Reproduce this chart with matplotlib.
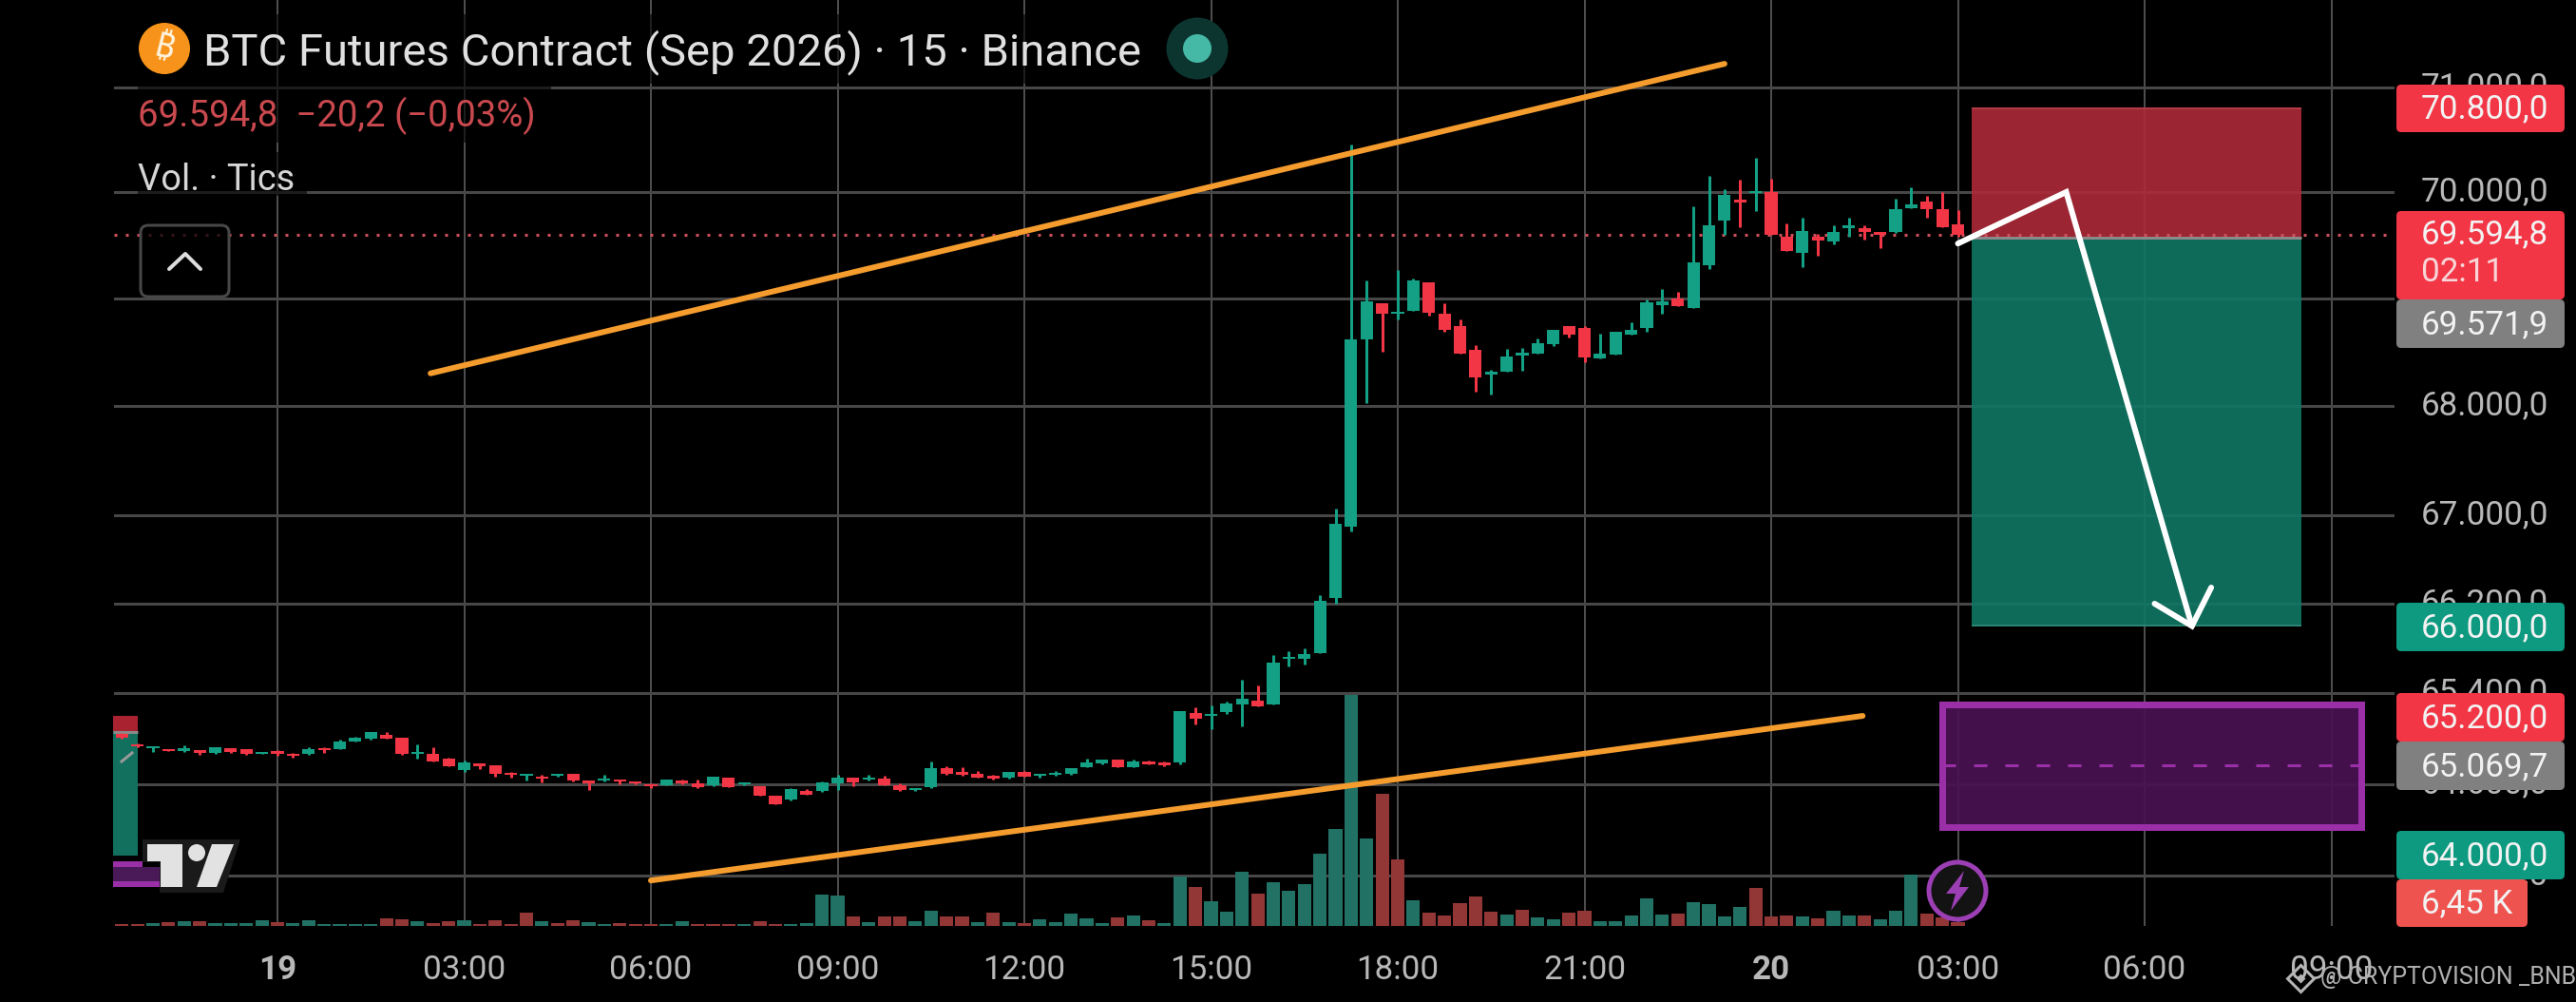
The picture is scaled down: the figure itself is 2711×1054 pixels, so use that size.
import matplotlib
matplotlib.use("Agg")
import matplotlib.pyplot as plt
import numpy as np
from matplotlib.patches import Rectangle, FancyBboxPatch, Circle, Polygon
from matplotlib.ticker import NullLocator
from matplotlib.transforms import ScaledTranslation

plt.rcParams['font.family'] = ['Roboto', 'DejaVu Sans']

# 15-minute candles, hours counted from the start of day 19
first_hour = -2.5
opens = [65045,64947,64914,64906,64886,64897,64870,64914,64906,64864,
         64889,64867,64861,64917,64909,64978,64995,65034,65006,64861,
         64864,64825,64725,64778,64767,64697,64675,64667,64675,64689,
         64631,64628,64639,64622,64600,64592,64633,64608,64586,64658,
         64594,64581,64497,64461,64539,64536,64608,64656,64636,64650,
         64586,64544,64569,64739,64706,64686,64675,64653,64708,64669,
         64678,64686,64752,64783,64811,64752,64802,64786,64786,65228,
         65200,65233,65303,65331,65303,65703,65703,65754,66248,66895,
         68617,68956,68856,68882,69152,68853,68738,68516,68289,68316,
         68463,68484,68572,68743,68720,68440,68475,68661,68723,68935,
         68994,68909,69307,69730,69927,69990,70000,69581,69427,69578,
         69533,69662,69662,69626,69620,69846,69908,69842,69697]
highs = [65050,64953,64931,64906,64942,64900,64922,64917,64909,64881,
         64895,64875,64922,64920,64992,65017,65059,65059,65006,64950,
         64922,64831,64803,64781,64767,64706,64689,64683,64692,64689,
         64631,64683,64639,64625,64603,64642,64642,64642,64667,64658,
         64614,64581,64497,64564,64558,64622,64678,64656,64681,64675,
         64606,64567,64800,64758,64750,64711,64683,64708,64711,64689,
         64717,64742,64827,64819,64816,64819,64808,64794,65244,65278,
         65292,65328,65520,65469,65743,65774,65802,66277,67055,70455,
         69164,68956,69262,69188,69152,68950,68797,68558,68336,68531,
         68537,68620,68708,68743,68743,68664,68690,68779,68988,69089,
         69063,69867,70153,70027,70118,70330,70127,69706,69760,69605,
         69688,69754,69688,69626,69939,70045,69967,70000,69831]
lows = [65000,64922,64878,64886,64884,64853,64867,64875,64853,64861,
        64850,64834,64859,64875,64909,64975,64992,65000,64859,64825,
        64797,64756,64706,64733,64667,64658,64628,64617,64661,64625,
        64550,64625,64594,64600,64561,64589,64597,64567,64583,64572,
        64592,64500,64425,64458,64508,64533,64544,64583,64633,64589,
        64542,64536,64567,64683,64675,64656,64642,64650,64661,64658,
        64675,64683,64750,64772,64745,64750,64775,64758,64777,65128,
        65086,65219,65109,65283,65303,65635,65658,65754,66203,66850,
        68024,68502,68802,68879,68841,68684,68484,68130,68103,68316,
        68324,68484,68552,68634,68404,68440,68472,68661,68684,68856,
        68926,68909,69271,69599,69670,69820,69594,69444,69293,69397,
        69507,69581,69551,69471,69617,69843,69754,69665,69581]
closes = [65006,64928,64931,64889,64914,64875,64922,64878,64864,64881,
          64867,64845,64909,64895,64975,65006,65056,65003,64861,64881,
          64800,64758,64792,64753,64686,64678,64689,64644,64689,64633,
          64608,64650,64622,64603,64578,64642,64606,64569,64664,64575,
          64614,64500,64425,64556,64508,64614,64656,64617,64653,64592,
          64544,64567,64739,64686,64681,64658,64644,64706,64664,64689,
          64700,64739,64786,64813,64747,64802,64777,64761,65242,65172,
          65219,65308,65351,65286,65672,65723,65751,66226,66919,68614,
          68974,68856,68876,69170,68861,68705,68484,68263,68313,68460,
          68490,68584,68708,68661,68445,68487,68690,68702,68959,68974,
          68926,69340,69688,69976,69897,70009,69594,69444,69635,69539,
          69626,69682,69623,69599,69840,69884,69837,69665,69594.8]
volumes = [4.2,4.2,6.0,6.6,9.0,8.4,4.8,4.8,4.8,10.2,
           6.6,4.8,10.2,4.2,4.2,4.2,4.2,13.8,12.6,8.4,
           4.8,8.4,10.2,4.2,10.2,4.2,25.2,8.4,6.0,10.2,
           7.8,4.2,6.0,4.2,4.2,4.2,9.0,4.2,4.2,4.2,
           4.2,9.0,4.2,4.2,6.0,59.4,57.6,18.0,6.6,18.0,
           18.0,8.4,28.8,18.0,18.0,6.6,25.2,6.6,4.8,12.6,
           6.6,22.8,13.8,6.0,15.6,19.2,10.2,4.8,
           93.0,73.8,46.2,27.0,102.0,61.2,82.8,66.6,78.6,136.8,183.6,437.4,165.6,
           250.2,126.0,48.0,25.2,19.8,43.2,55.8,27.0,21.6,30.6,16.2,12.6,25.2,28.8,
           9.0,9.0,19.8,52.2,21.6,23.4,45.0,41.4,18.0,36.0,72.0,18.0,19.8,18.0,14.4,
           28.8,19.8,19.8,12.6,28.8,97.2,23.4,16.2,6.45]
volume_sides = ("rrgrgrgggg" "rggggggrrg" "rrgrrrrgrr" "ggrrrggrrr" "grrggggrgr" "rggrrgrgrg"
                "ggggrg" "rg"
                "grgggrgggggggrrgrrrrrgrggrrgggggrggggrrrgrggrgggrrr")

price_ticks = [71000, 70000, 69000, 68000, 67000, 66200, 65400, 64600, 63800]
price_labels = ['71.000,0', '70.000,0', '69.000,0', '68.000,0', '67.000,0',
                '66.200,0', '65.400,0', '64.600,0', '63.800,0']
time_ticks = [0, 3, 6, 9, 12, 15, 18, 21, 24, 27, 30, 33]
time_labels = ['19', '03:00', '06:00', '09:00', '12:00', '15:00', '18:00', '21:00',
               '20', '03:00', '06:00', '09:00']

upper_trend_hours, upper_trend_prices = [2.46, 23.25], [68300, 71228]
lower_trend_hours, lower_trend_prices = [6.0, 25.47], [63761, 65200]
sketch_hours, sketch_prices = [27.0, 28.74, 30.76], [69513, 70000, 66000]
head_hours, head_prices = [30.16, 30.76, 31.07], [66200, 66000, 66345]
short_hours = [27.22, 32.52]
short_stop, short_entry, short_target = 70800, 69571.9, 66000
zone_hours = [26.75, 33.48]
zone_top, zone_mid, zone_bottom = 65300, 64767, 64226
last_price = 69594.8

BG = '#000000'
UP, DOWN = '#14a084', '#f23645'
VOL_UP, VOL_DOWN = '#217165', '#933636'
PX = 0.72  # points per pixel at dpi 100

W, H = 2711, 1054
fig = plt.figure(figsize=(W / 100, H / 100), dpi=100, facecolor=BG)
rect = [120 / W, (H - 974) / H, 2400 / W, 974 / H]
xlim = (-2.626, 34.015)
ylim = (63369, 71847)

# grid layer with the axes' own ticks
ax = fig.add_axes(rect, facecolor=BG, zorder=1)
ax.set_yscale('log')
ax.set_xlim(xlim)
ax.set_ylim(ylim)
ax.yaxis.tick_right()
ax.set_yticks(price_ticks)
ax.set_yticklabels(price_labels)
ax.yaxis.set_minor_locator(NullLocator())
ax.set_xticks(time_ticks)
ax.set_xticklabels(time_labels)
ax.tick_params(axis='both', length=0, colors='#b8b8b8', labelsize=35 * PX)
ax.tick_params(axis='y', pad=28 * PX)
ax.tick_params(axis='x', pad=30 * PX)
ax.grid(axis='x', color='#4d4d4d', lw=2 * PX)
ax.grid(axis='y', color='#474747', lw=3 * PX)
for s in ax.spines.values():
    s.set_visible(False)
for lab in ax.get_yticklabels():
    lab.set_transform(lab.get_transform() + ScaledTranslation(0, 4 / 100, fig.dpi_scale_trans))
for lab, txt in zip(ax.get_xticklabels(), time_labels):
    if txt in ('19', '20'):
        lab.set_fontweight('bold')

hours = first_hour + 0.25 * np.arange(len(closes))

# volume layer
vax = fig.add_axes(rect, zorder=2)
vax.patch.set_alpha(0)
vax.axis('off')
vax.set_xlim(xlim)
vax.set_ylim(0, 1753)
vax.bar(hours, volumes, width=0.215,
        color=[VOL_UP if s == 'g' else VOL_DOWN for s in volume_sides], linewidth=0)

# compressed copies of the drawings at the left edge, under the candles
low = fig.add_axes([0, 0, 1, 1], zorder=2.5)
low.patch.set_alpha(0)
low.axis('off')
low.set_xlim(0, W)
low.set_ylim(H, 0)
low.add_patch(Rectangle((119, 753), 26, 16, fc='#a8222f', lw=0))
low.add_patch(Rectangle((119, 769), 26, 131, fc='#12705f', lw=0))
low.plot([119, 145], [770, 770], color='#8a8a8a', lw=3 * PX, solid_capstyle='butt')
low.plot([128, 139], [801, 792], color='#9a9a9a', lw=3 * PX)
low.add_patch(Rectangle((119, 906), 31, 6, fc='#9a2fa8', lw=0))
low.add_patch(Rectangle((119, 912), 50, 15, fc='#4a1a58', lw=0))
low.add_patch(Rectangle((119, 927), 50, 6, fc='#9a2fa8', lw=0))

# price layer
pax = fig.add_axes(rect, zorder=3)
pax.patch.set_alpha(0)
pax.set_yscale('log')
pax.axis('off')

pax.add_patch(Rectangle((short_hours[0], short_entry), short_hours[1] - short_hours[0],
                        short_stop - short_entry, fc=(173 / 255, 42 / 255, 56 / 255, 0.9), lw=0, zorder=2))
pax.add_patch(Rectangle((short_hours[0], short_target), short_hours[1] - short_hours[0],
                        short_entry - short_target, fc=(16 / 255, 118 / 255, 100 / 255, 0.9), lw=0, zorder=2))
pax.plot(short_hours, [short_entry] * 2, color='#8a8a8a', lw=3 * PX, zorder=2.1, solid_capstyle='butt')
pax.plot(short_hours, [short_stop] * 2, color='#b23a45', lw=2 * PX, zorder=2.1, solid_capstyle='butt')
pax.plot(short_hours, [short_target] * 2, color='#2b8574', lw=2 * PX, zorder=2.1, solid_capstyle='butt')

pax.add_patch(Rectangle((zone_hours[0], zone_bottom), zone_hours[1] - zone_hours[0],
                        zone_top - zone_bottom, fc=(74 / 255, 18 / 255, 82 / 255, 0.93),
                        ec='#9a2fa8', lw=7 * PX, zorder=2, joinstyle='miter'))
pax.plot(zone_hours, [zone_mid] * 2, color='#9a2fa8', lw=3 * PX, ls=(0, (4.7, 6.3)), zorder=2.2)

pax.plot([xlim[0], 33.87], [last_price] * 2, color='#d0505c', lw=3 * PX, ls=(0, (1, 3)), zorder=2.5)

pax.vlines(hours, lows, highs, colors=[UP if c >= o else DOWN for o, c in zip(opens, closes)],
           lw=3 * PX, zorder=3)
pax.bar(hours, np.array(closes) - np.array(opens), bottom=opens, width=0.2,
        color=[UP if c >= o else DOWN for o, c in zip(opens, closes)], linewidth=0, zorder=3.1)

pax.plot(upper_trend_hours, upper_trend_prices, color='#f59c2e', lw=6 * PX, solid_capstyle='round', zorder=4)
pax.plot(lower_trend_hours, lower_trend_prices, color='#f59c2e', lw=6 * PX, solid_capstyle='round', zorder=4)
pax.plot(sketch_hours, sketch_prices, color='white', lw=6 * PX, solid_capstyle='round',
         solid_joinstyle='miter', zorder=5)
pax.plot(head_hours, head_prices, color='white', lw=6 * PX, solid_capstyle='round',
         solid_joinstyle='miter', zorder=5)
pax.set_xlim(xlim)
pax.set_ylim(ylim)

# interface furniture, placed in screen pixels
ui = fig.add_axes([0, 0, 1, 1], zorder=10)
ui.patch.set_alpha(0)
ui.axis('off')
ui.set_xlim(0, W)
ui.set_ylim(H, 0)

# legend backing that dims the grid behind it
for x0, y0, x1, y1 in [(145, 15, 1215, 88), (145, 88, 580, 150), (145, 160, 323, 206)]:
    ui.add_patch(Rectangle((x0, y0), x1 - x0, y1 - y0, fc=(0, 0, 0, 0.6), lw=0, zorder=0.2))

ui.add_patch(Circle((173, 51), 27, fc='#f7931a', lw=0))
ui.text(173, 51, '₿', color='#fff4e0', fontsize=36 * PX, ha='center', va='center', rotation=-14,
        fontweight='bold', family=['Noto Sans', 'Inter', 'Open Sans', 'Lato', 'Liberation Sans', 'DejaVu Sans'])
ui.text(214, 68, 'BTC Futures Contract (Sep 2026) · 15 · Binance', color='#e0e0e0',
        fontsize=47.3 * PX, va='baseline', ha='left')
ui.add_patch(Circle((1260, 51), 32.5, fc='#0d3530', lw=0))
ui.add_patch(Circle((1260, 51), 15, fc='#45b8a6', lw=0))
ui.text(145, 133, '69.594,8  −20,2 (−0,03%)', color='#c9494f', fontsize=38.4 * PX, va='baseline', ha='left')
ui.text(145, 200, 'Vol. · Tics', color='#d6d6d6', fontsize=38 * PX, va='baseline', ha='left')

ui.add_patch(FancyBboxPatch((156, 245), 77, 59, boxstyle='round,pad=8,rounding_size=8',
                            fc=(0, 0, 0, 0.75), ec='#484848', lw=3 * PX))
ui.plot([178, 195, 211], [283, 267, 283], color='#dddddd', lw=4 * PX, solid_capstyle='round')

# TradingView mark
ui.add_patch(Polygon([(150, 883), (253, 883), (235, 939), (168, 939), (168, 907), (150, 907)],
                     fc='#1a1a1a', lw=0, zorder=1))
ui.add_patch(Polygon([(155, 888), (192, 888), (192, 933), (169, 933), (169, 906), (155, 906)],
                     fc='#e2e2e2', lw=0, zorder=1.1))
ui.add_patch(Circle((207, 897), 9, fc='#e2e2e2', lw=0, zorder=1.1))
ui.add_patch(Polygon([(223, 888), (246, 888), (228, 933), (207, 933)], fc='#e2e2e2', lw=0, zorder=1.1))

# lightning badge
ui.add_patch(Circle((2060, 937), 30, fc='#131313', ec='#9c3fb5', lw=5 * PX, zorder=3))
ui.add_patch(Polygon([(2067, 916), (2048, 940), (2058, 940), (2053, 958), (2072, 933), (2062, 933)],
                     fc='#9c3fb5', lw=0, zorder=3.1))


def price_tag(y0, y1, color, x1=2699):
    ui.add_patch(FancyBboxPatch((2522, y0), x1 - 2522, y1 - y0, boxstyle='round,pad=0,rounding_size=5',
                                fc=color, lw=0, zorder=4))


TAG_TEXT = '#f2f2f2'
tags = [(89, 139, DOWN, '70.800,0'), (222, 315, DOWN, None), (315, 366, '#808080', '69.571,9'),
        (634, 685, '#0d9a80', '66.000,0'), (729, 780, DOWN, '65.200,0'), (780, 831, '#808080', '65.069,7'),
        (874, 925, '#0d9a80', '64.000,0')]
for y0, y1, col, txt in tags:
    price_tag(y0, y1, col)
    if txt:
        ui.text(2548, (y0 + y1) / 2 + 1, txt, color=TAG_TEXT, fontsize=35 * PX, va='center', ha='left', zorder=5)
ui.text(2548, 247, '69.594,8', color=TAG_TEXT, fontsize=35 * PX, va='center', ha='left', zorder=5)
ui.text(2548, 286, '02:11', color='#f7d5d8', fontsize=35 * PX, va='center', ha='left', zorder=5)
price_tag(925, 975, '#ef5350', x1=2660)
ui.text(2548, 951, '6,45 K', color=TAG_TEXT, fontsize=35 * PX, va='center', ha='left', zorder=5)

# watermark
ui.plot([2421], [1029], marker='D', ms=20 * PX, mfc='none', mec='#b5b5b5', mew=3 * PX, zorder=6)
ui.plot([2421], [1029], marker='D', ms=7 * PX, mfc='#b5b5b5', mec='none', zorder=6)
ui.text(2442, 1028, '@ CRYPTOVISION _BNB', color='#b0b0b0', fontsize=25 * PX, va='center', ha='left', zorder=6)

fig.savefig('out.png', dpi=100, facecolor=BG)
